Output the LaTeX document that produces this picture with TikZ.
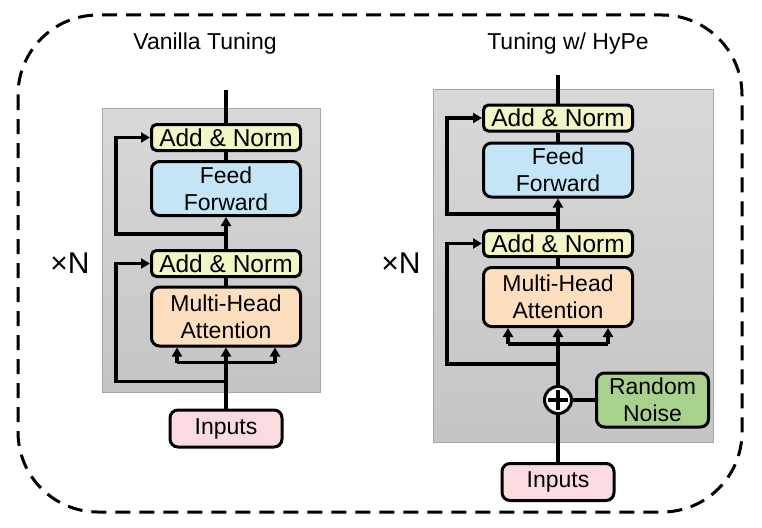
\documentclass[tikz,border=0pt]{standalone}
\usepackage{fontspec}
\setmainfont{Liberation Sans}
\usepackage{tikz}
\usetikzlibrary{positioning,arrows.meta}
\definecolor{cnorm}{HTML}{F3F5C6}
\definecolor{cff}{HTML}{C4E5F5}
\definecolor{cmha}{HTML}{FDDFC0}
\definecolor{cin}{HTML}{FADCE0}
\definecolor{cnz}{HTML}{A9D18E}

\begin{document}
\begin{tikzpicture}[x=1pt,y=-1pt,
  every node/.style={font=\fontsize{23}{27}\selectfont},
  blk/.style={draw,line width=3pt,rounded corners=8pt,minimum width=149pt,align=center,inner sep=0pt},
  addn/.style={blk,fill=cnorm,minimum height=26pt,rounded corners=5pt,font=\fontsize{24.5}{28}\selectfont},
  ffw/.style={blk,fill=cff,minimum height=54pt},
  mha/.style={blk,fill=cmha,minimum height=59pt},
  inp/.style={blk,fill=cin,minimum width=112pt,minimum height=37pt},
  wire/.style={line width=3.5pt},
  arr/.style={wire,-{Triangle[length=9pt,width=10pt]}},
  bg/.style={draw=black!35,line width=1pt,top color=black!15,bottom color=black!23}]
\useasboundingbox (0,0) rectangle (762,527);
\draw[line width=3pt,dash pattern=on 15pt off 9pt,rounded corners=80pt] (18,15) rectangle (742,512);
\draw[bg] (102,108) rectangle (320,392); \draw[bg] (433,89) rectangle (713,442);

% vanilla
\node (t1) at (205,44) {Vanilla Tuning};
\node[font=\fontsize{30}{36}\selectfont] (n1) at (70,263) {×N};
\node[addn] (an1) at (226,137.5) {Add \& Norm}; \node[ffw] (ff1) at (226,188.5) {Feed\\Forward}; \node[addn] (an2) at (226,263.5) {Add \& Norm}; \node[mha] (mha1) at (226,316.5) {Multi-Head\\Attention}; \node[inp] (in1) at (226,428.5) {Inputs};
\coordinate [above=33pt of an1] (o1); \coordinate [above=15pt of an2] (j1); \coordinate [below=15pt of mha1] (f1); \coordinate [below=34pt of mha1] (b1); \coordinate [left=49pt of f1] (f1l); \coordinate [right=49pt of f1] (f1r);

\draw[wire] (an1) -- (o1); \draw[wire] (ff1) -- (an1); \draw[arr] (an2) -- (ff1); \draw[wire] (mha1) -- (an2);
\draw[arr] (in1) -- (mha1); \draw[wire] (f1l) -- (f1r); \draw[arr] (f1l) -- (f1l |- mha1.south); \draw[arr] (f1r) -- (f1r |- mha1.south);
\draw[arr] (j1) -- ++(-110pt,0) |- (an1.west); \draw[arr] (b1) -- ++(-110pt,0) |- (an2.west);

% hype
\node (t2) at (568,44) {Tuning w/ HyPe};
\node[font=\fontsize{30}{36}\selectfont] (n2) at (401,263) {×N};
\node[addn] (an3) at (558,118) {Add \& Norm}; \node[ffw] (ff2) at (558,170) {Feed\\Forward}; \node[addn] (an4) at (558,243.5) {Add \& Norm}; \node[mha] (mha2) at (558,297) {Multi-Head\\Attention};
\node[draw,circle,fill=white,line width=3pt,minimum size=27pt,inner sep=0pt] (pl) at (558,400) {}; \node[blk, fill=cnz, minimum width=112pt, minimum height=54pt, right=22pt of pl] (nz) {Random\\Noise}; \node[inp] (in2) at (558,482) {Inputs};
\coordinate [above=29pt of an3] (o2); \coordinate [above=15pt of an4] (j2); \coordinate [below=16pt of mha2] (f2); \coordinate [below=36pt of mha2] (b2); \coordinate [left=50pt of f2] (f2l); \coordinate [right=50pt of f2] (f2r);

\draw[wire] (an3) -- (o2); \draw[wire] (ff2) -- (an3); \draw[arr] (an4) -- (ff2); \draw[wire] (mha2) -- (an4);
\draw[wire] (in2) -- (pl); \draw[wire] (nz) -- (pl); \draw[arr] (pl) -- (mha2); \draw[wire] (f2l) -- (f2r); \draw[arr] (f2l) -- (f2l |- mha2.south); \draw[arr] (f2r) -- (f2r |- mha2.south);
\draw[arr] (j2) -- ++(-111pt,0) |- (an3.west); \draw[arr] (b2) -- ++(-111pt,0) |- (an4.west);
\draw[line width=3.5pt] ([xshift=-10pt]pl.center) -- ([xshift=10pt]pl.center) ([yshift=-10pt]pl.center) -- ([yshift=10pt]pl.center);
\end{tikzpicture}
\end{document}
